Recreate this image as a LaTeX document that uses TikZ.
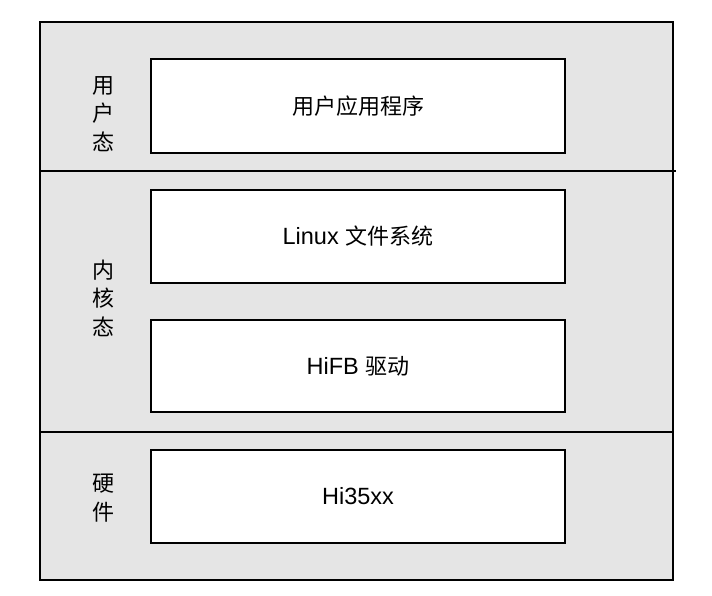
\documentclass[tikz,border=0pt]{standalone}
\usepackage{fontspec}
\setmainfont{Liberation Sans}
\newfontfamily\cjk{Noto Sans CJK SC}
\usetikzlibrary{positioning}

\begin{document}
\begin{tikzpicture}[x=1pt, y=-1pt,
  layerbox/.style={draw, fill=white, line width=1.3pt, minimum width=414pt,
    minimum height=93pt, inner sep=0pt, font=\fontsize{23.5}{28}\selectfont},
  zh/.style={font=\fontsize{22}{28}\selectfont\cjk},
  sidelabel/.style={font=\fontsize{22}{28.5}\selectfont\cjk, align=center},
  divider/.style={line width=1.2pt}]
  \useasboundingbox (0,0) rectangle (712,595);
  % gray frame
  \draw[fill=gray!20, line width=1.3pt] (40,22) rectangle (673,580);
  \coordinate (d1l) at (40,171);  \coordinate (d1r) at (676,171);
  \coordinate (d2l) at (40,432);  \coordinate (d2r) at (673,432);
  \draw[divider] (d1l) -- (d1r);
  \draw[divider] (d2l) -- (d2r);
  % layers
  \node[layerbox, minimum height=94pt] (app) at (358,106) {\fontsize{22}{28}\selectfont\cjk 用户应用程序};
  \node[layerbox] (fs) at (358,236.5) {Linux {\fontsize{22}{28}\selectfont\cjk 文件系统}};
  \node[layerbox, minimum height=92pt] (drv) at (358,366) {HiFB {\fontsize{22}{28}\selectfont\cjk 驱动}};
  \node[layerbox] (chip) at (358,496.5) {Hi35xx};
  % side labels
  \node[sidelabel] (user) at (103,114) {用\\户\\态};
  \node[sidelabel] (kernel) at (103,298) {内\\核\\态};
  \node[sidelabel] (hw) at (103,498) {硬\\件};
\end{tikzpicture}
\end{document}
